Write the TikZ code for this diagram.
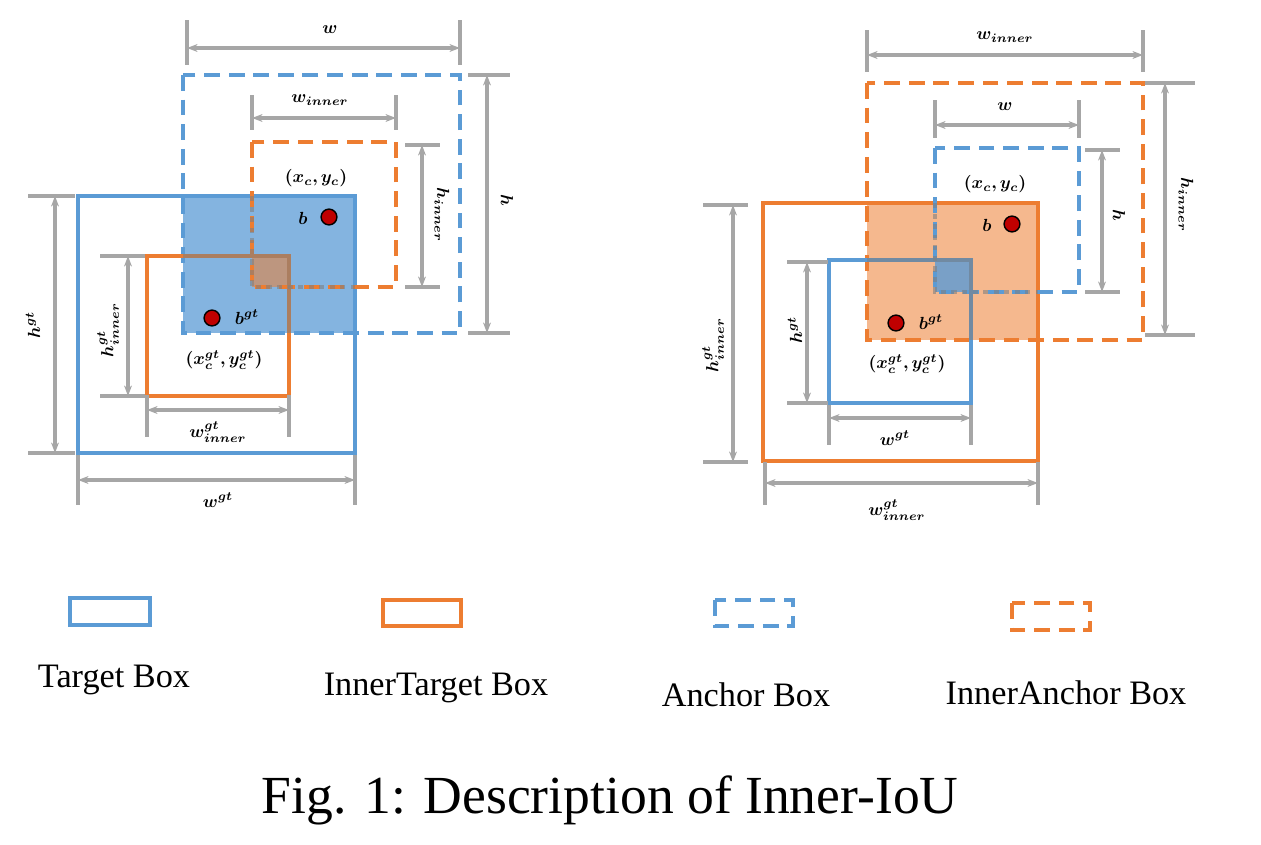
\documentclass[tikz,border=0pt]{standalone}
\usepackage{fontspec}
\setmainfont{Liberation Serif}
\usepackage{bm}
\usetikzlibrary{arrows.meta}
\definecolor{tblue}{HTML}{5B9BD5}
\definecolor{torange}{HTML}{ED7D31}
\definecolor{dimgray}{HTML}{A6A6A6}
\definecolor{pred}{HTML}{C00000}
\tikzset{
  box/.style={line width=2.2pt},
  dbox/.style={line width=2.2pt, dash pattern=on 9pt off 5pt},
  dim/.style={dimgray, line width=2pt, {Stealth[length=6pt]}-{Stealth[length=6pt]}},
  tick/.style={dimgray, line width=2.4pt},
  lab/.style={font=\normalsize, inner sep=1pt},
  pt/.style={circle, draw=black, fill=pred, line width=0.8pt, minimum size=9pt, inner sep=0pt},
  legend/.style={font=\fontsize{19.5}{23}\selectfont},
}
\begin{document}
\begin{tikzpicture}[x=0.02cm, y=-0.02cm]
\useasboundingbox (0,0) rectangle (1261,845);
% ---------------- left ----------------
\fill[tblue, opacity=0.75] (183,196) rectangle (355,333);
\fill[torange, opacity=0.55] (252,256) rectangle (289,287);
\draw[box, tblue] (78,196) rectangle (355,453);
\draw[dbox, tblue] (183,75) rectangle (460,333);
\draw[box, torange] (147,256) rectangle (289,396);
\draw[dbox, torange] (252,142) rectangle (396,287);
\draw[gray, line width=2pt, opacity=0.6] (183,256) -- (289,256) -- (289,333);
\draw[gray, line width=2pt, dashed, opacity=0.6] (252,196) -- (252,287) -- (355,287);
\node[pt] (b1) at (329,217) {};
\node[pt] (g1) at (212,318) {};
\node[lab] (bl1) at (303,218) {$\bm{b}$};
\node[lab] (gl1) at (247,317) {$\bm{b^{gt}}$};
\node[lab] (c1) at (316,178) {$\bm{(x_c,y_c)}$};
\node[lab] (cg1) at (224,360) {$\bm{(x_c^{gt},y_c^{gt})}$};
% dims
\draw[tick] (187,20) -- (187,65); \draw[tick] (460,20) -- (460,65);
\draw[dim] (187,48) -- (460,48); \node[lab] (lw1) at (330,30) {$\bm{w}$};
\draw[tick] (252,95) -- (252,130); \draw[tick] (396,95) -- (396,130);
\draw[dim] (252,118) -- (396,118); \node[lab] (lwi1) at (320,100) {$\bm{w_{inner}}$};
\draw[tick] (405,145) -- (440,145); \draw[tick] (405,287) -- (440,287);
\draw[dim] (422,145) -- (422,287); \node[lab, rotate=-90] (lhi1) at (442,215) {$\bm{h_{inner}}$};
\draw[tick] (468,75) -- (510,75); \draw[tick] (468,333) -- (510,333);
\draw[dim] (487,75) -- (487,333); \node[lab, rotate=-90] (lh1) at (507,200) {$\bm{h}$};
\draw[tick] (28,196) -- (75,196); \draw[tick] (28,453) -- (75,453);
\draw[dim] (55,196) -- (55,453); \node[lab, rotate=90] (lhg1) at (33,325) {$\bm{h^{gt}}$};
\draw[tick] (100,256) -- (145,256); \draw[tick] (100,396) -- (145,396);
\draw[dim] (128,256) -- (128,396); \node[lab, rotate=90] (lhgi1) at (108,330) {$\bm{h_{inner}^{gt}}$};
\draw[tick] (147,395) -- (147,437); \draw[tick] (289,395) -- (289,437);
\draw[dim] (147,410) -- (289,410); \node[lab] (lwgi1) at (218,432) {$\bm{w_{inner}^{gt}}$};
\draw[tick] (78,455) -- (78,505); \draw[tick] (355,455) -- (355,505);
\draw[dim] (78,480) -- (355,480); \node[lab] (lwg1) at (218,500) {$\bm{w^{gt}}$};
% ---------------- right ----------------
\fill[torange, opacity=0.55] (867,203) rectangle (1038,340);
\fill[tblue, opacity=0.8] (935,260) rectangle (971,292);
\draw[box, torange] (763,203) rectangle (1038,461);
\draw[dbox, torange] (867,83) rectangle (1143,340);
\draw[box, tblue] (829,260) rectangle (971,403);
\draw[dbox, tblue] (935,148) rectangle (1079,292);
\draw[gray, line width=2pt, opacity=0.6] (867,260) -- (971,260) -- (971,340);
\draw[gray, line width=2pt, dashed, opacity=0.6] (935,203) -- (935,292) -- (1038,292);
\node[pt] (b2) at (1012,224) {};
\node[pt] (g2) at (896,323) {};
\node[lab] (bl2) at (987,225) {$\bm{b}$};
\node[lab] (gl2) at (931,322) {$\bm{b^{gt}}$};
\node[lab] (c2) at (995,184) {$\bm{(x_c,y_c)}$};
\node[lab] (cg2) at (907,364) {$\bm{(x_c^{gt},y_c^{gt})}$};
\draw[tick] (867,30) -- (867,72); \draw[tick] (1143,30) -- (1143,72);
\draw[dim] (867,55) -- (1143,55); \node[lab] (lwi2) at (1005,37) {$\bm{w_{inner}}$};
\draw[tick] (935,100) -- (935,138); \draw[tick] (1079,100) -- (1079,138);
\draw[dim] (935,125) -- (1079,125); \node[lab] (lw2) at (1005,107) {$\bm{w}$};
\draw[tick] (1085,150) -- (1120,150); \draw[tick] (1085,292) -- (1120,292);
\draw[dim] (1102,150) -- (1102,292); \node[lab, rotate=-90] (lh2) at (1119,215) {$\bm{h}$};
\draw[tick] (1145,83) -- (1195,83); \draw[tick] (1145,335) -- (1195,335);
\draw[dim] (1165,83) -- (1165,335); \node[lab, rotate=-90] (lhi2) at (1186,205) {$\bm{h_{inner}}$};
\draw[tick] (703,205) -- (748,205); \draw[tick] (703,462) -- (748,462);
\draw[dim] (733,205) -- (733,462); \node[lab, rotate=90] (lhgi2) at (713,345) {$\bm{h_{inner}^{gt}}$};
\draw[tick] (787,262) -- (828,262); \draw[tick] (787,403) -- (828,403);
\draw[dim] (807,262) -- (807,403); \node[lab, rotate=90] (lhg2) at (795,330) {$\bm{h^{gt}}$};
\draw[tick] (829,405) -- (829,445); \draw[tick] (971,405) -- (971,445);
\draw[dim] (829,418) -- (971,418); \node[lab] (lwg2) at (895,438) {$\bm{w^{gt}}$};
\draw[tick] (765,462) -- (765,505); \draw[tick] (1038,462) -- (1038,505);
\draw[dim] (765,483) -- (1038,483); \node[lab] (lwgi2) at (897,510) {$\bm{w_{inner}^{gt}}$};
% ---------------- legend ----------------
\draw[box, tblue] (70,598) rectangle (150,625);
\node[legend] (t1) at (114,680) {Target Box};
\draw[box, torange] (383,600) rectangle (461,626);
\node[legend] (t2) at (436,688) {InnerTarget Box};
\draw[dbox, tblue] (715,600) rectangle (793,626);
\node[legend] (t3) at (746,695) {Anchor Box};
\draw[dbox, torange] (1012,603) rectangle (1090,630);
\node[legend] (t4) at (1066,693) {InnerAnchor Box};
\node[font=\fontsize{30.5}{36}\selectfont] (cap) at (610,800) {Fig. 1: Description of Inner-IoU};
\end{tikzpicture}
\end{document}
